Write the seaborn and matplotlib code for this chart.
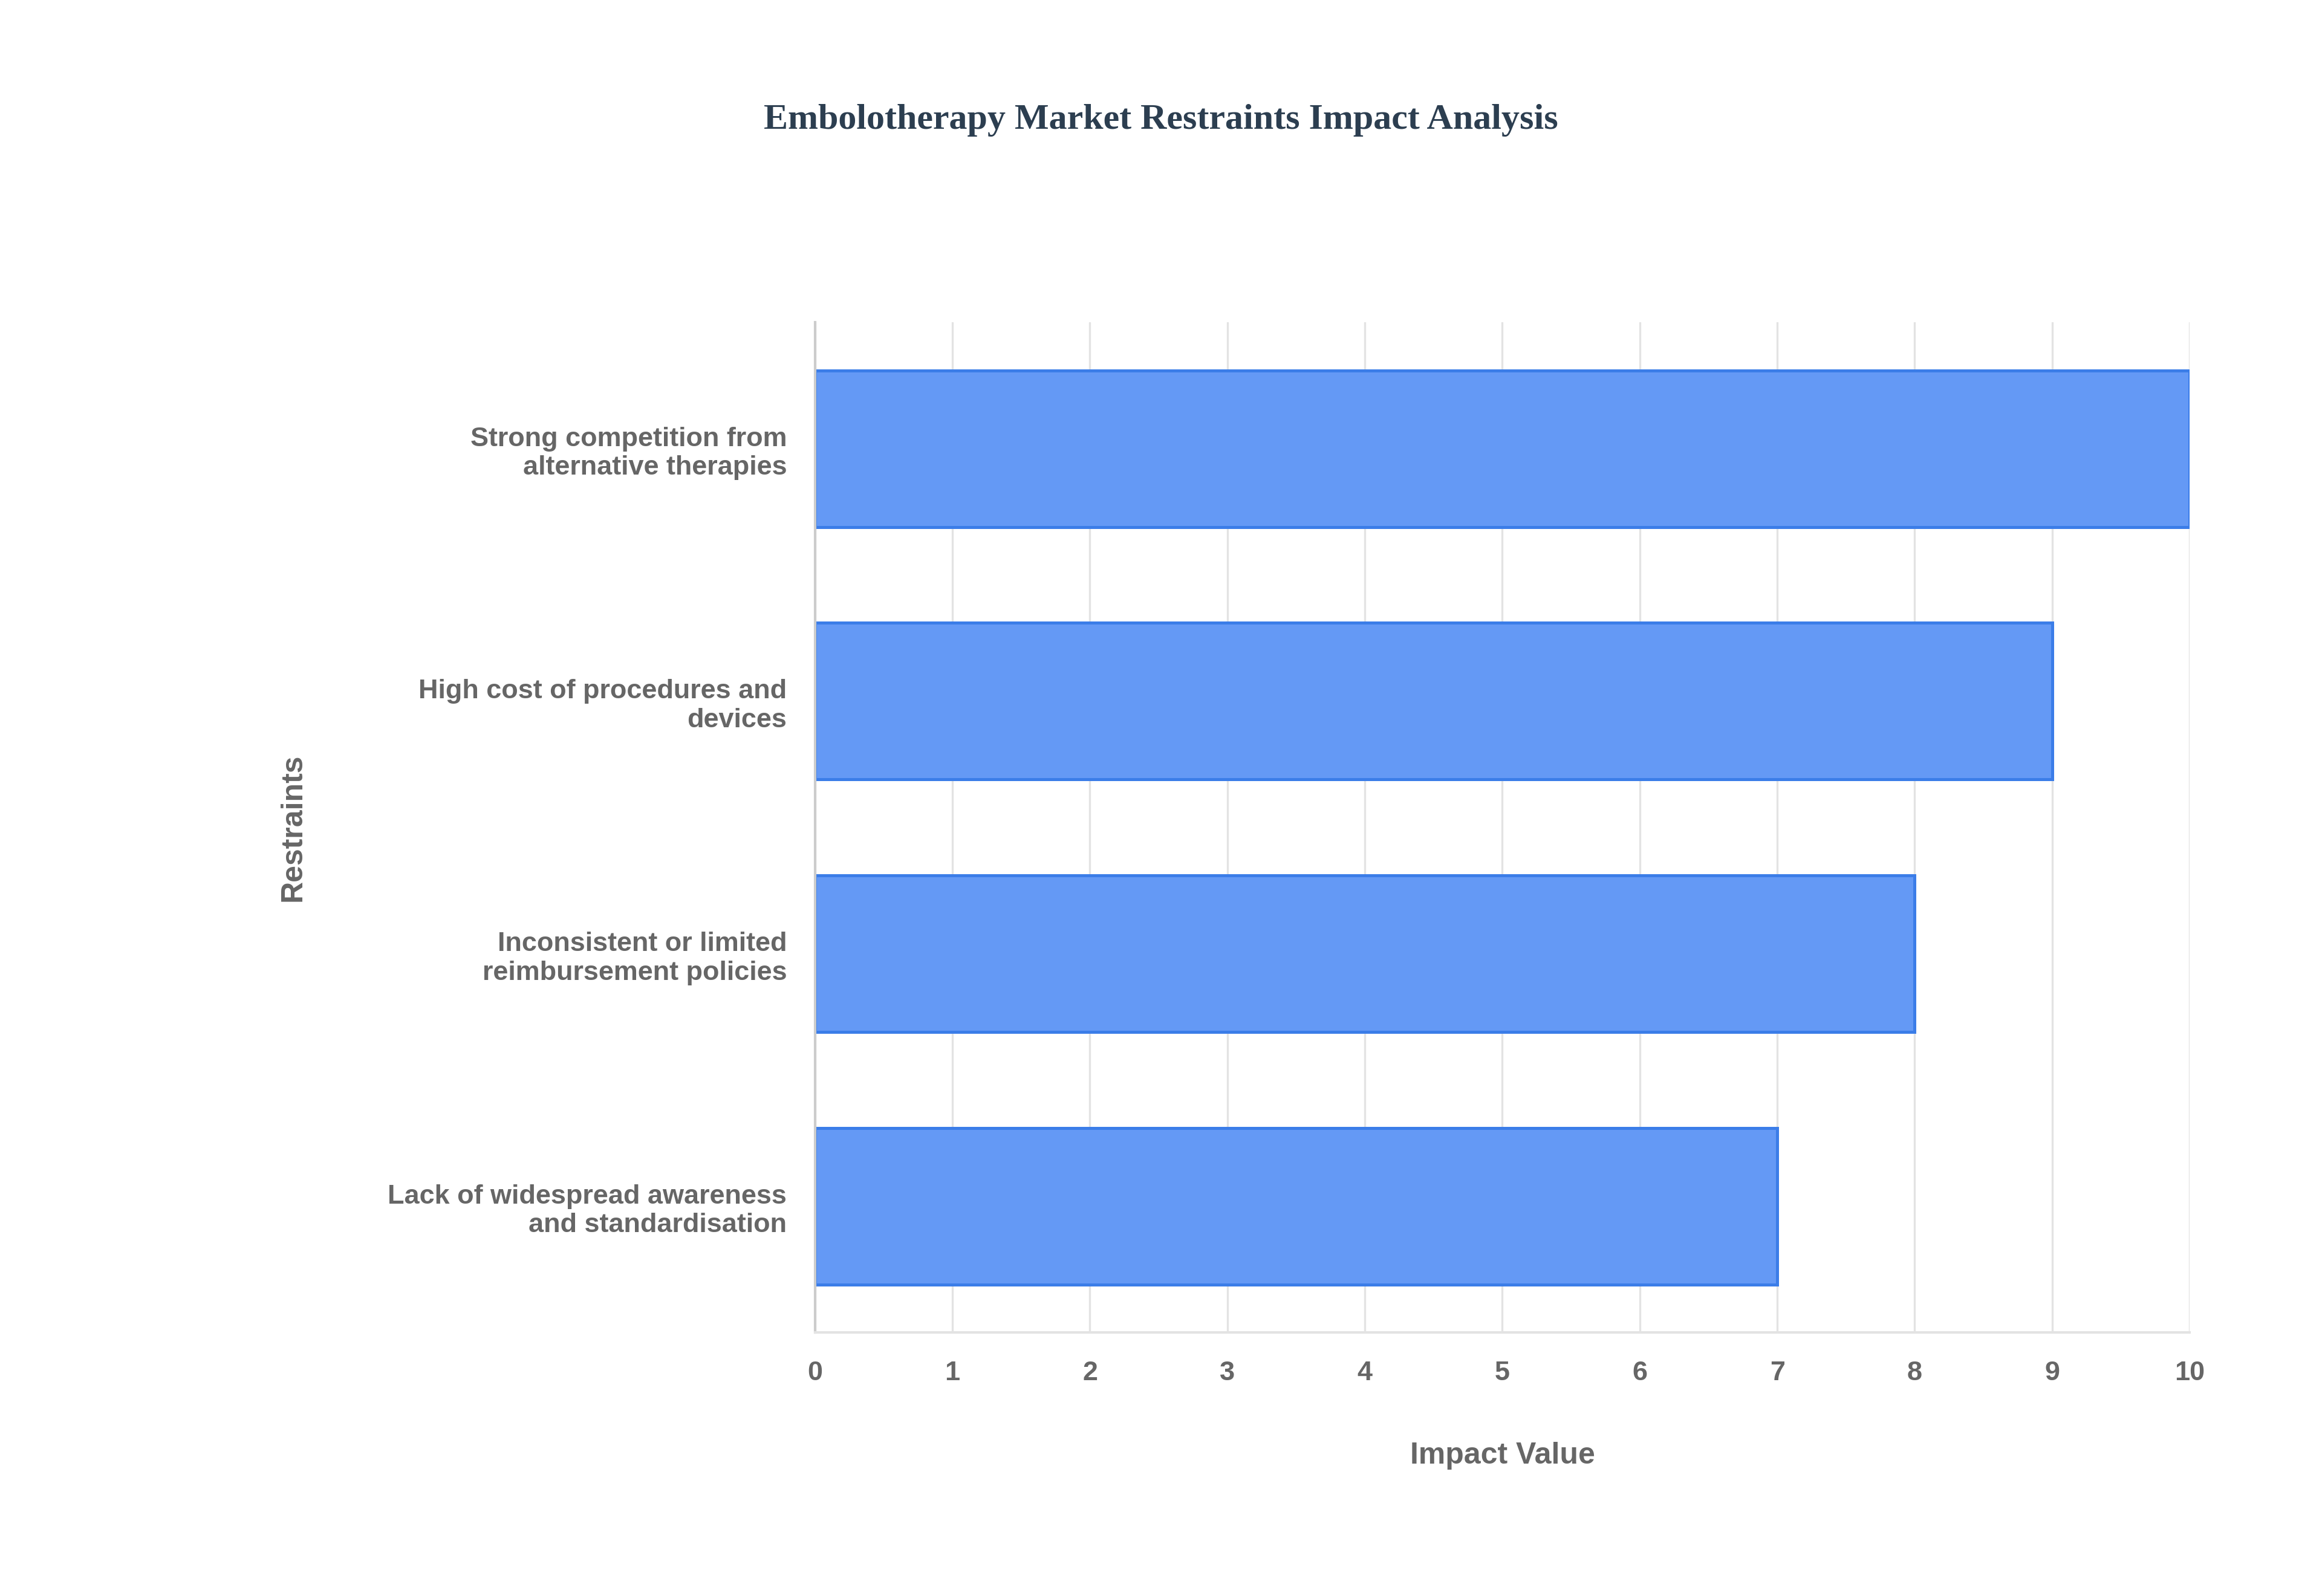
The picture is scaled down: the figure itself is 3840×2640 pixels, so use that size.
import matplotlib
matplotlib.use("Agg")
import matplotlib.pyplot as plt
import seaborn as sns
import pandas as pd

restraints = ["Strong competition from\nalternative therapies",
              "High cost of procedures and\ndevices",
              "Inconsistent or limited\nreimbursement policies",
              "Lack of widespread awareness\nand standardisation"]
impact = [10, 9, 8, 7]
ticks = list(range(0, 11))

sns.set_theme(style="white")
plt.rcParams['font.family'] = ['Liberation Sans', 'DejaVu Sans']

df = pd.DataFrame({"Restraints": restraints, "Impact": impact})
fig = plt.figure(figsize=(16, 11), dpi=240)
ax = fig.add_axes([0.351, 0.165, 0.592, 0.633])
sns.barplot(data=df, x="Impact", y="Restraints", orient="h", ax=ax,
            color="#6499f5", edgecolor="#3b7de8", linewidth=1.5, width=0.62,
            saturation=1)
ax.set_xlim(0, 10)
ax.set_xticks(ticks)
ax.grid(axis="x", color="#e3e3e3", linewidth=1)
ax.set_axisbelow(True)
for s in ["top", "right"]:
    ax.spines[s].set_visible(False)
ax.spines["bottom"].set_color("#e3e3e3")
ax.spines["left"].set_color("#cccccc")
ax.tick_params(axis="both", length=0, pad=14, labelsize=13.5, labelcolor="#666666")
for lbl in ax.get_xticklabels() + ax.get_yticklabels():
    lbl.set_fontweight("bold")
ax.set_xlabel("Impact Value", fontsize=15, fontweight="bold", color="#666666", labelpad=28)
ax.set_ylabel("Restraints", fontsize=15, fontweight="bold", color="#666666", labelpad=40)
fig.suptitle("Embolotherapy Market Restraints Impact Analysis", y=0.935,
             fontsize=18, fontweight="bold", color="#2c3e50", family="Liberation Serif")
fig.savefig("out.png", dpi=240, facecolor="white")
